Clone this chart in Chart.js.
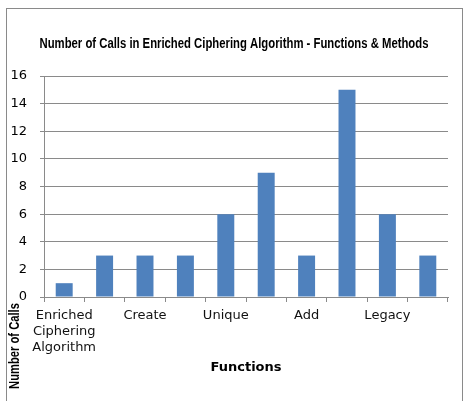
<!DOCTYPE html>
<html>
<head>
<meta charset="utf-8">
<script src="https://cdn.jsdelivr.net/npm/chart.js@4.4.0/dist/chart.umd.min.js"></script>
<style>
  html, body { margin: 0; padding: 0; background: #fff; }
  #wrap { position: relative; width: 467px; height: 401px; }
  #frame { position: absolute; left: 6px; top: 8px; width: 457px; height: 400px; border: 1px solid #8a8a8a; box-sizing: border-box; }
  canvas { position: absolute; left: 0; top: 0; }
</style>
</head>
<body>
<div id="wrap">
  <div id="frame"></div>
  <canvas id="grafico" width="467" height="401"></canvas>
</div>
<script>
// dados
const categorias = [['Enriched', 'Ciphering', 'Algorithm'], '', 'Create', '', 'Unique', '', 'Add', '', 'Legacy', ''];
const chamadas = [1, 3, 3, 3, 6, 9, 3, 15, 6, 3];
const titulo = 'Number of Calls in Enriched Ciphering Algorithm - Functions & Methods';
const tituloX = 'Functions';
const tituloY = 'Number of Calls';

// texto estreito (fonte condensada do original) desenhado com escala horizontal
const textoEstreito = (ctx, texto, x, y, rot, tamanho, escala) => {
    ctx.save();
    ctx.translate(x, y);
    ctx.rotate(rot);
    ctx.scale(escala, 1);
    ctx.font = 'bold ' + tamanho + 'px "Liberation Sans", Arial, sans-serif';
    ctx.fillStyle = '#000';
    ctx.textAlign = 'center';
    ctx.textBaseline = 'middle';
    ctx.fillText(texto, 0, 0);
    ctx.restore();
};

// título principal e título do eixo Y (no canto inferior esquerdo, como no original)
const titulosPlugin = {
    id: 'titulos',
    afterDraw(chart) {
        const ctx = chart.ctx;
        const area = chart.chartArea;
        textoEstreito(ctx, titulo, (area.left + area.right) / 2 - 12, 44, 0, 14.5, 0.78);
        textoEstreito(ctx, tituloY, 15, 346, -Math.PI / 2, 14, 0.8);
    }
};

const ctxGrafico = document.getElementById('grafico').getContext('2d');
new Chart(ctxGrafico, {
    type: 'bar',
    data: {
        labels: categorias,
        datasets: [{
            label: tituloY,
            data: chamadas,
            backgroundColor: '#4f81bd',
            borderWidth: 0,
            barPercentage: 0.42,
            categoryPercentage: 1
        }]
    },
    options: {
        responsive: false,
        animation: false,
        layout: { padding: { left: 0, right: 19, top: 76, bottom: 0 } },
        plugins: {
            legend: { display: false },
            tooltip: { enabled: false },
            title: { display: false }
        },
        scales: {
            x: {
                afterFit(scale) { scale.height = 104; },
                grid: { offset: true, drawOnChartArea: false, drawTicks: true, tickLength: 5, color: '#8a8a8a' },
                border: { color: '#8a8a8a' },
                ticks: {
                    autoSkip: false,
                    maxRotation: 0,
                    padding: 5,
                    color: '#111',
                    font: { family: '"DejaVu Sans", Verdana, sans-serif', size: 13, lineHeight: 1.25 }
                },
                title: {
                    display: true,
                    text: tituloX,
                    color: '#000',
                    font: { family: '"DejaVu Sans", Verdana, sans-serif', size: 13, weight: 'bold' },
                    padding: { top: 0, bottom: 26 },
                    align: 'center'
                }
            },
            y: {
                min: 0,
                max: 16,
                afterFit(scale) { scale.width = 44; },
                grid: { color: '#8a8a8a', tickLength: 4 },
                border: { color: '#8a8a8a' },
                ticks: {
                    stepSize: 2,
                    padding: 13,
                    color: '#000',
                    font: { family: '"DejaVu Sans", Verdana, sans-serif', size: 13 }
                }
            }
        }
    },
    plugins: [titulosPlugin]
});
</script>
</body>
</html>
